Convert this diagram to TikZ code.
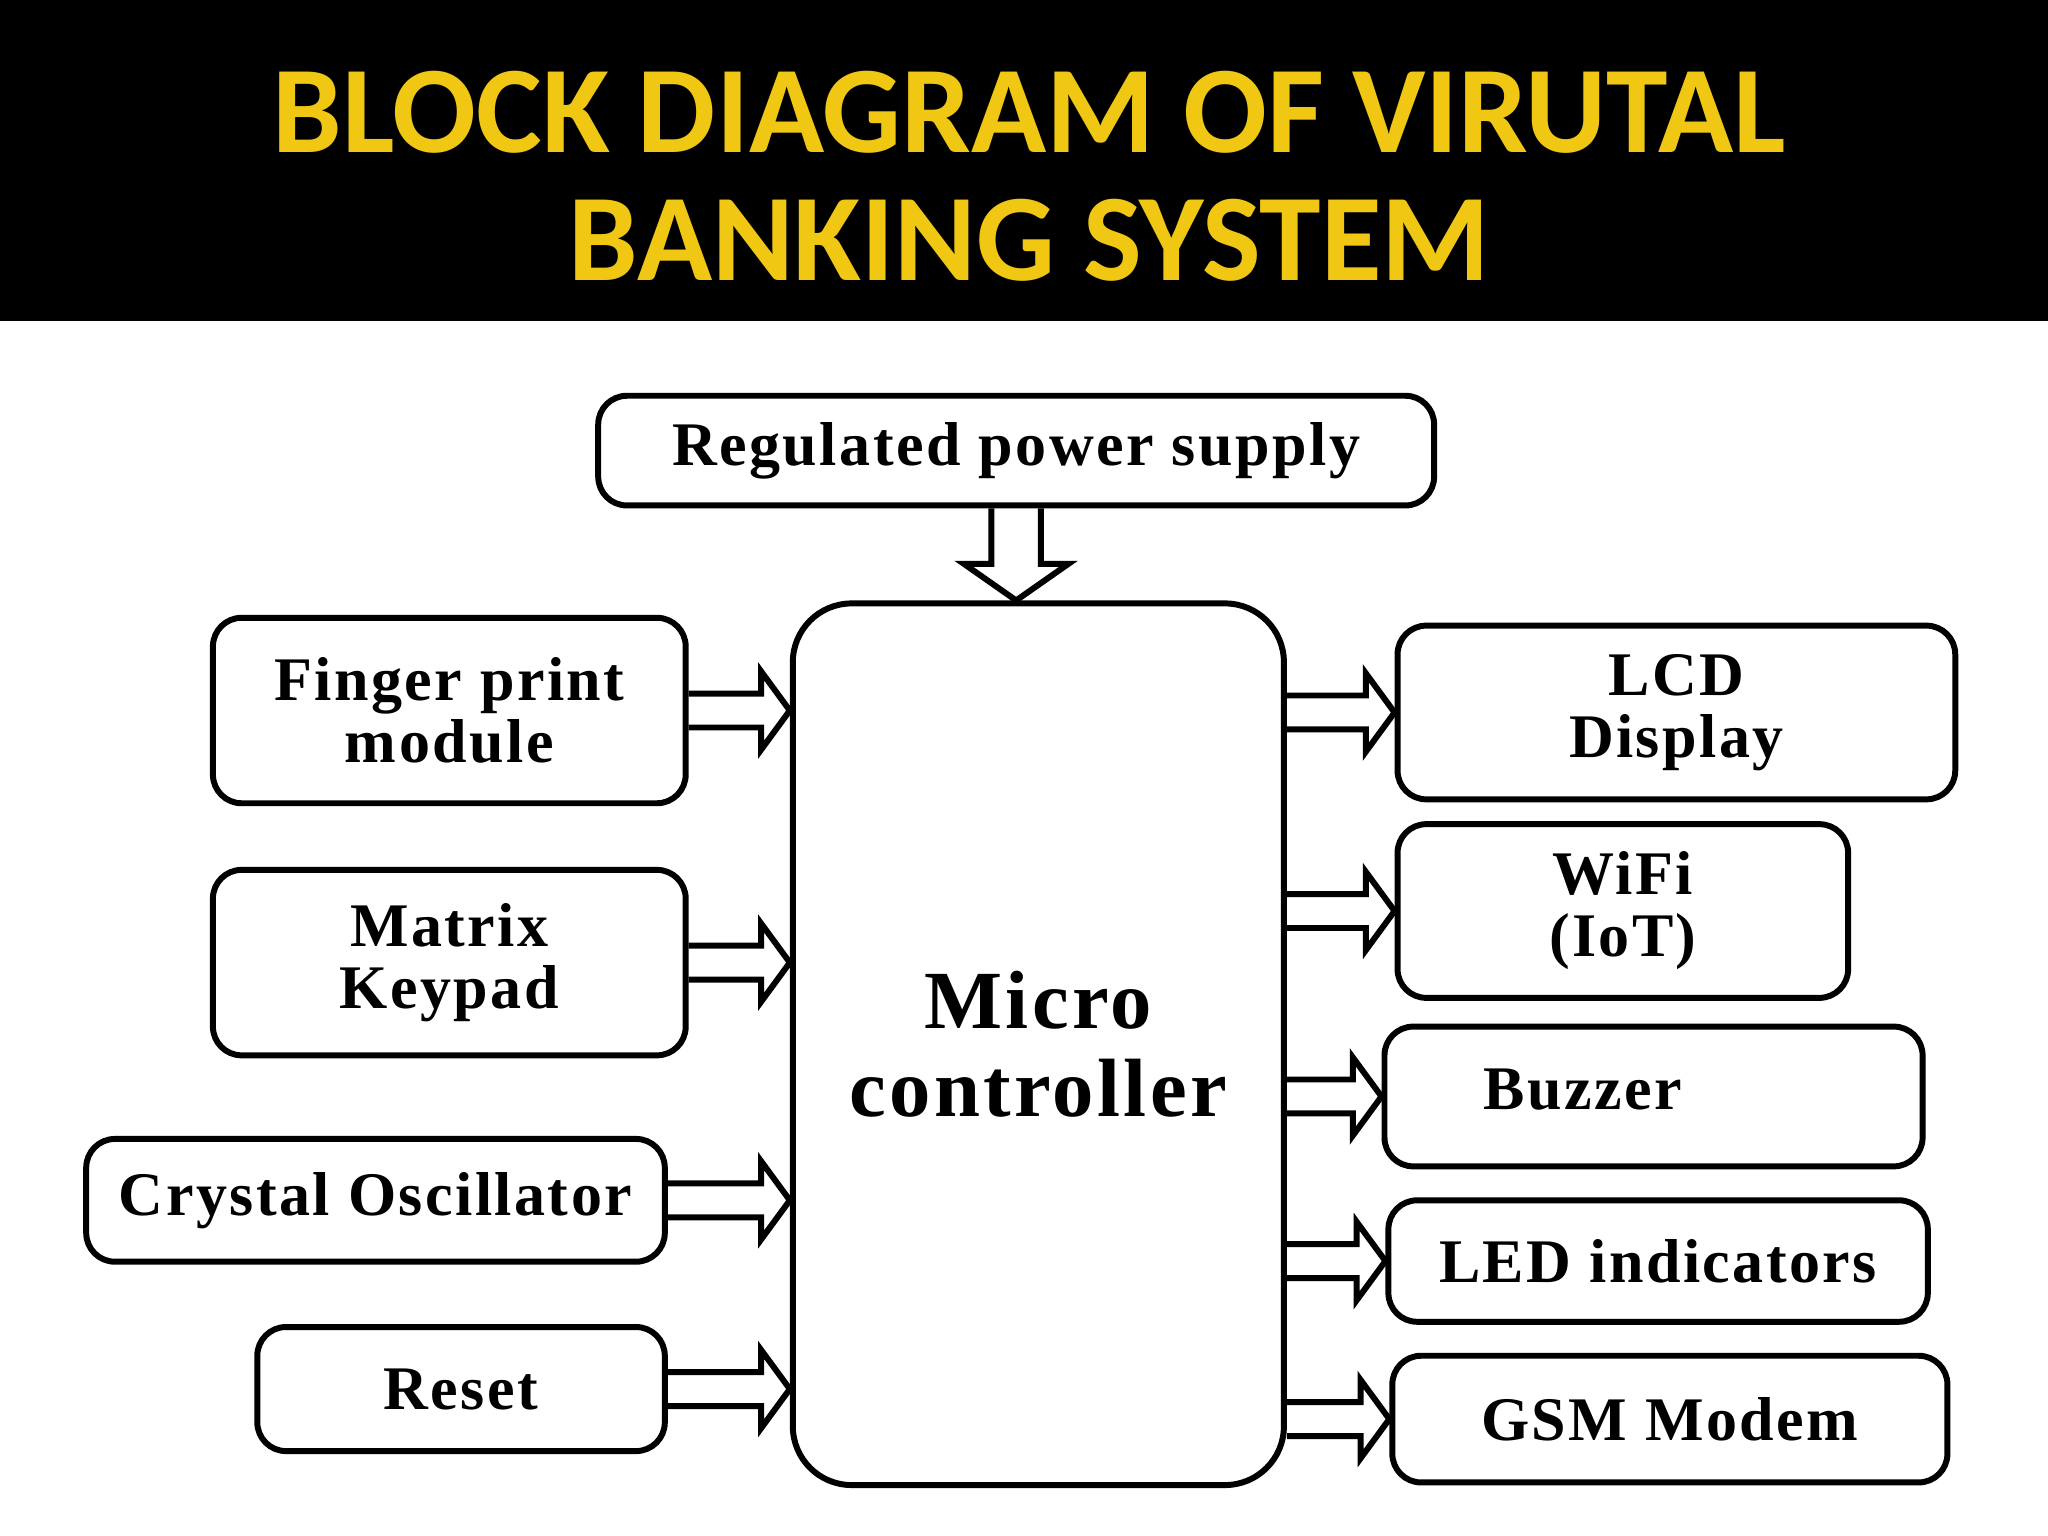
\documentclass[tikz,border=0pt]{standalone}
\usepackage{fontspec}
\setmainfont{Liberation Serif}[LetterSpace=4]
\newfontfamily\titlefont{Carlito}
\usetikzlibrary{calc}
\definecolor{ttl}{RGB}{240,200,20}
\begin{document}
\begin{tikzpicture}[x=0.01cm,y=-0.01cm,
  box/.style={draw,line width=1.3pt,rounded corners=0.22cm,align=center,font=\bfseries\fontsize{13.5}{13.5}\selectfont},
  harr/.style={line width=1.3pt,line join=miter,to path={($(\tikztostart)+(0,13)$) -- ($(\tikztotarget)+(-22,13)$) -- ($(\tikztotarget)+(-22,30)$) -- (\tikztotarget) -- ($(\tikztotarget)+(-22,-30)$) -- ($(\tikztotarget)+(-22,-13)$) -- ($(\tikztostart)+(0,-13)$)}},
  varr/.style={line width=1.3pt,line join=miter,to path={($(\tikztostart)+(19,0)$) -- ($(\tikztotarget)+(19,-28)$) -- ($(\tikztotarget)+(40,-28)$) -- (\tikztotarget) -- ($(\tikztotarget)+(-40,-28)$) -- ($(\tikztotarget)+(-19,-28)$) -- ($(\tikztostart)+(-19,0)$)}}]
\useasboundingbox (0,0) rectangle (1568,1176);
\fill[black] (0,0) rectangle (1568,246);
\node[font=\titlefont\bfseries\fontsize{27}{30}\selectfont,text=ttl,align=center] (title) at (788,135) {BLOCK DIAGRAM OF VIRUTAL\\[-2pt]BANKING SYSTEM};
\node[box,minimum width=640*0.01cm,minimum height=84*0.01cm] (power) at (778,345) {Regulated power supply};
\node[draw,line width=1.3pt,rounded corners=0.45cm,minimum width=376*0.01cm,minimum height=675*0.01cm,align=center,font=\bfseries\fontsize{18}{19}\selectfont] (micro) at (795,799.5) {Micro\\controller};
\node[box,minimum width=362*0.01cm,minimum height=142*0.01cm] (fp) at (344,544) {Finger print\\module};
\node[box,minimum width=362*0.01cm,minimum height=142*0.01cm] (kp) at (344,737) {Matrix\\Keypad};
\node[box,minimum width=443*0.01cm,minimum height=94*0.01cm] (xo) at (287.5,919) {Crystal Oscillator};
\node[box,minimum width=312*0.01cm,minimum height=95*0.01cm] (rs) at (353,1063.5) {Reset};
\node[box,minimum width=427*0.01cm,minimum height=133*0.01cm] (lcd) at (1283.5,545.5) {LCD\\Display};
\node[box,minimum width=345*0.01cm,minimum height=133*0.01cm] (wifi) at (1242.5,697.5) {WiFi\\(IoT)};
\node[box,minimum width=412*0.01cm,minimum height=107*0.01cm] (bz) at (1266,839.5) {};
\node[font=\bfseries\fontsize{13.5}{13.5}\selectfont] (bzt) at (1212,834) {Buzzer};
\node[box,minimum width=413*0.01cm,minimum height=93*0.01cm] (led) at (1269.5,965.5) {LED indicators};
\node[box,minimum width=425*0.01cm,minimum height=97*0.01cm] (gsm) at (1278.5,1086.5) {GSM Modem};
\draw[varr] (power.south) to (power.south |- micro.north);
\draw[harr] (fp.east) to (fp.east -| micro.west);
\draw[harr] (kp.east) to (kp.east -| micro.west);
\draw[harr] (xo.east) to (xo.east -| micro.west);
\draw[harr] (rs.east) to (rs.east -| micro.west);
\draw[harr] (micro.east |- lcd.west) to (lcd.west);
\draw[harr] (micro.east |- wifi.west) to (wifi.west);
\draw[harr] (micro.east |- bz.west) to (bz.west);
\draw[harr] (micro.east |- led.west) to (led.west);
\draw[harr] (micro.east |- gsm.west) to (gsm.west);
\end{tikzpicture}
\end{document}
